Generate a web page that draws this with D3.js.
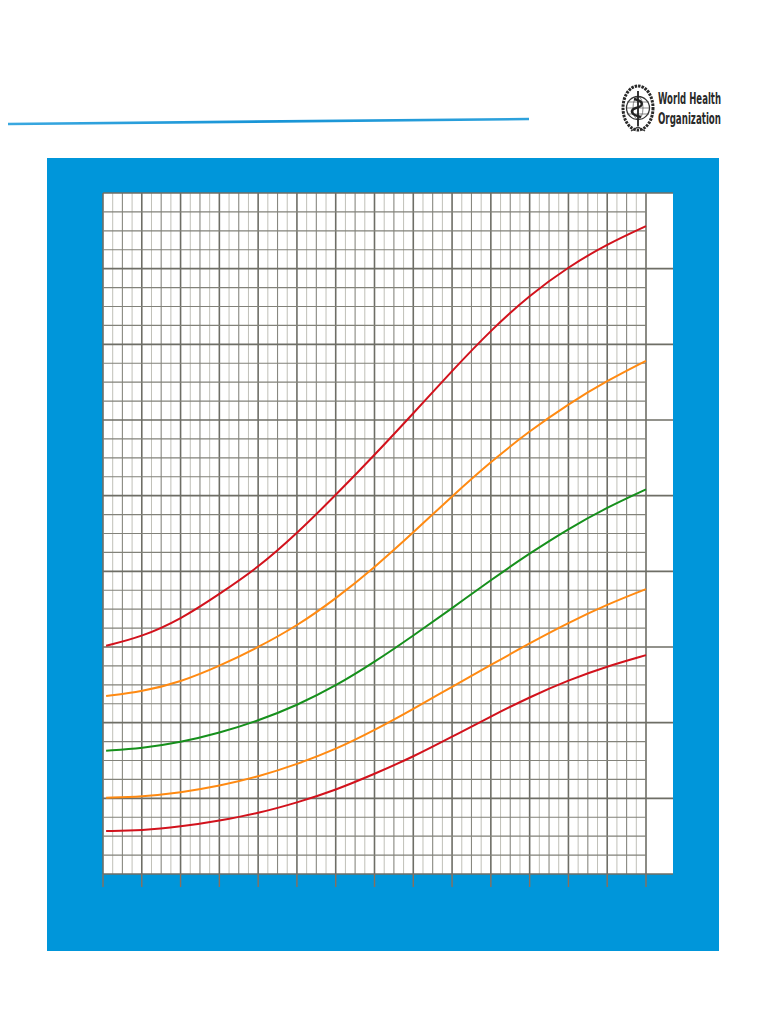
<!DOCTYPE html>
<html>
<head>
<meta charset="utf-8">
<script src="https://cdn.jsdelivr.net/npm/d3@7"></script>
<style>
  html, body { margin: 0; padding: 0; background: #fff; }
  #chart { width: 768px; height: 1024px; }
</style>
</head>
<body>
<div id="chart"></div>
<script>
// x positions of the read points, in major grid columns (0..14)
const xPoints = [0.08, 1, 2, 3, 4, 5, 6, 7, 8, 9, 10, 11, 12, 13, 14];
// curve values, in grid rows from the bottom (0..36)
const sdPos3 = [12.07, 12.54, 13.46, 14.80, 16.20, 18.00, 20.03, 22.15, 24.35, 26.60, 28.75, 30.60, 32.10, 33.30, 34.25];
const sdPos2 = [9.41, 9.64, 10.15, 10.99, 11.98, 13.11, 14.55, 16.20, 18.05, 19.97, 21.80, 23.42, 24.85, 26.08, 27.13];
const sd0    = [6.52, 6.64, 6.96, 7.45, 8.10, 8.91, 9.94, 11.20, 12.60, 14.05, 15.54, 16.95, 18.25, 19.38, 20.33];
const sdNeg2 = [4.03, 4.09, 4.30, 4.65, 5.14, 5.80, 6.59, 7.60, 8.72, 9.90, 11.05, 12.20, 13.28, 14.25, 15.06];
const sdNeg3 = [2.27, 2.29, 2.50, 2.82, 3.21, 3.77, 4.44, 5.29, 6.20, 7.26, 8.33, 9.35, 10.25, 10.98, 11.57];

const series = [
  {name: "-3", values: sdNeg3, color: "#d2121c"},
  {name: "-2", values: sdNeg2, color: "#ff8a12"},
  {name: "0",  values: sd0,    color: "#16901c"},
  {name: "2",  values: sdPos2, color: "#ff8a12"},
  {name: "3",  values: sdPos3, color: "#d2121c"}
];

const xMajors = 14;   // major columns
const xSub = 4;       // minor columns per major
const yRows = 36;     // grid rows
const yMajorEvery = 4;

const W = 768, H = 1024;
const svg = d3.select("#chart").append("svg")
  .attr("width", W)
  .attr("height", H);

// header: blue rule
const grad = svg.append("defs").append("linearGradient")
  .attr("id", "rule")
  .attr("x1", "0%").attr("x2", "100%");
grad.append("stop").attr("offset", "0%").attr("stop-color", "#3aa8e0");
grad.append("stop").attr("offset", "50%").attr("stop-color", "#1794d6");
grad.append("stop").attr("offset", "100%").attr("stop-color", "#2ea2dc");

svg.append("path")
  .attr("d", "M 8,124 L 529,119")
  .attr("stroke", "url(#rule)")
  .attr("stroke-width", 2.6)
  .attr("fill", "none");

// WHO emblem, roughly
const logo = svg.append("g").attr("transform", "translate(638,108)");
logo.append("ellipse")
  .attr("rx", 15).attr("ry", 22)
  .attr("fill", "none").attr("stroke", "#2a2a2a").attr("stroke-width", 3)
  .style("stroke-dasharray", "2.5, 1");
logo.append("circle")
  .attr("r", 11.5)
  .attr("fill", "#fff").attr("stroke", "#333").attr("stroke-width", 1.3);
[-6, 0, 6].forEach(d => {
  logo.append("line").attr("x1", -11).attr("x2", 11).attr("y1", d).attr("y2", d)
    .attr("stroke", "#555").attr("stroke-width", 0.7);
});
logo.append("ellipse").attr("rx", 5).attr("ry", 11.5)
  .attr("fill", "none").attr("stroke", "#555").attr("stroke-width", 0.7);
logo.append("line").attr("x1", 0).attr("x2", 0).attr("y1", -17).attr("y2", 18)
  .attr("stroke", "#222").attr("stroke-width", 1.8);
logo.append("path")
  .attr("d", "M -4,-9 C 6,-7 6,-2 -2,0 C -9,2 -7,7 3,9")
  .attr("fill", "none").attr("stroke", "#222").attr("stroke-width", 2.4);
logo.append("path")
  .attr("d", "M -7,23 L 0,19 L 7,23")
  .attr("fill", "none").attr("stroke", "#333").attr("stroke-width", 1.4);

const logoFont = "'DejaVu Sans Condensed', 'Liberation Sans Narrow', sans-serif";
[["World Health", 104], ["Organization", 124]].forEach(t => {
  svg.append("text")
    .attr("x", 658).attr("y", t[1])
    .attr("font-family", logoFont)
    .attr("font-weight", "bold")
    .attr("font-size", "15px")
    .attr("fill", "#2a2a2a")
    .attr("textLength", 63)
    .attr("lengthAdjust", "spacingAndGlyphs")
    .text(t[0]);
});

// blue panel
svg.append("rect")
  .attr("x", 47).attr("y", 158)
  .attr("width", 672).attr("height", 793)
  .attr("fill", "#0096da");

// scales
const x = d3.scaleLinear().domain([0, xMajors]).range([103, 646]);
const y = d3.scaleLinear().domain([0, yRows]).range([874, 193]);
const xRight = 673;

// white plotting paper
svg.append("rect")
  .attr("x", x(0)).attr("y", y(yRows))
  .attr("width", xRight - x(0)).attr("height", y(0) - y(yRows))
  .attr("fill", "#fff");

const grid = svg.append("g");

// vertical lines: major / half / quarter
d3.range(0, xMajors * xSub + 1).forEach(i => {
  const v = i / xSub;
  let stroke = "#c0c0b8", sw = 1;
  if (i % xSub === 0) { stroke = "#6e6e66"; sw = 1.6; }
  else if (i % 2 === 0) { stroke = "#888880"; sw = 1.1; }
  grid.append("line")
    .attr("x1", x(v)).attr("x2", x(v))
    .attr("y1", y(yRows)).attr("y2", y(0))
    .attr("stroke", stroke)
    .attr("stroke-width", sw);
});

// horizontal lines, majors run into the right margin
d3.range(0, yRows + 1).forEach(r => {
  const major = r % yMajorEvery === 0;
  grid.append("line")
    .attr("x1", x(0))
    .attr("x2", major ? xRight : x(xMajors))
    .attr("y1", y(r)).attr("y2", y(r))
    .attr("stroke", major ? "#6e6e66" : "#82827a")
    .attr("stroke-width", major ? 1.6 : 1.2);
});

// ticks under the paper
d3.range(0, xMajors + 1).forEach(k => {
  grid.append("line")
    .attr("x1", x(k)).attr("x2", x(k))
    .attr("y1", y(0)).attr("y2", y(0) + 13)
    .attr("stroke", "#8a6f5c")
    .attr("stroke-width", 1.4);
});

// z-score curves
const line = d3.line()
  .x((d, i) => x(xPoints[i]))
  .y(d => y(d))
  .curve(d3.curveBasis);

series.forEach(s => {
  svg.append("path")
    .datum(s.values)
    .attr("fill", "none")
    .attr("stroke", s.color)
    .attr("stroke-width", 2)
    .attr("d", line);
});
</script>
</body>
</html>
